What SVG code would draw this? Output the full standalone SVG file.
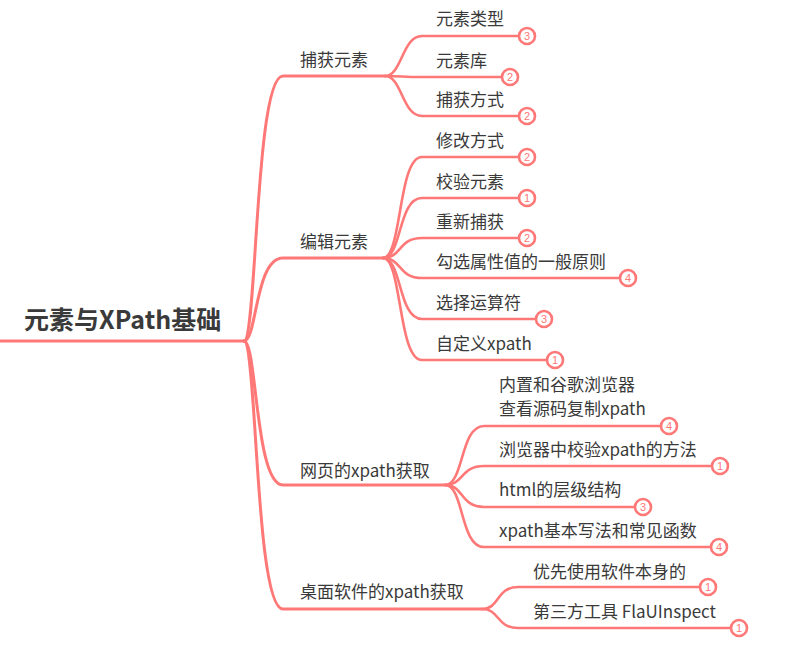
<svg xmlns="http://www.w3.org/2000/svg" width="786" height="648" viewBox="0 0 786 648">
<style>
.l1{fill:none;stroke:#ff7878;stroke-width:3;stroke-linecap:round}
.l2{fill:none;stroke:#ff7878;stroke-width:2.6;stroke-linecap:round}
.t{font-family:"Microsoft YaHei","Noto Sans CJK SC","Noto Sans",sans-serif;font-size:17px;fill:#3a3a3a}
.root{font-family:"Microsoft YaHei","Noto Sans CJK SC","Noto Sans",sans-serif;font-size:25px;font-weight:bold;fill:#3a3a3a}
.b circle{fill:#fff;stroke:#ff7878;stroke-width:2.6}
.b text{font-family:"Liberation Sans","Noto Sans",sans-serif;font-size:11px;fill:#ff7878;text-anchor:middle}
</style>
<rect width="786" height="648" fill="#fff"/>
<g id="connectors">
<path class="l1" d="M0,341 H244"/>
<path class="l1" d="M244,341 C257,341 255,76 283,76 H385"/>
<path class="l1" d="M244,341 C257,341 255,258 283,258 H383"/>
<path class="l1" d="M244,341 C257,341 255,485 283,485 H445"/>
<path class="l1" d="M244,341 C257,341 255,609 283,609 H482"/>
<path class="l2" d="M385,76 C402,76 402,36 422,36 H519"/>
<path class="l2" d="M385,76 C402,76 402,77 422,77 H502"/>
<path class="l2" d="M385,76 C402,76 402,116 422,116 H519"/>
<path class="l2" d="M383,258 C402,258 398,157 422,157 H519"/>
<path class="l2" d="M383,258 C402,258 398,198 422,198 H519"/>
<path class="l2" d="M383,258 C402,258 398,238 422,238 H519"/>
<path class="l2" d="M383,258 C402,258 398,278 422,278 H620"/>
<path class="l2" d="M383,258 C402,258 398,319 422,319 H536"/>
<path class="l2" d="M383,258 C402,258 398,360 422,360 H547"/>
<path class="l2" d="M445,485 C464,485 460,426 484,426 H661"/>
<path class="l2" d="M445,485 C464,485 460,466 484,466 H712"/>
<path class="l2" d="M445,485 C464,485 460,507 484,507 H635"/>
<path class="l2" d="M445,485 C464,485 460,547 484,547 H711"/>
<path class="l2" d="M482,609 C500,609 496,587 518,587 H700"/>
<path class="l2" d="M482,609 C500,609 496,628 518,628 H731"/>
</g>
<g id="root"><text class="root" x="24" y="329">元素与XPath基础</text></g>
<g id="n1"><text class="t" x="300" y="66">捕获元素</text></g>
<g id="n2"><text class="t" x="300" y="248">编辑元素</text></g>
<g id="n3"><text class="t" x="300" y="477">网页的xpath获取</text></g>
<g id="n4"><text class="t" x="300" y="598">桌面软件的xpath获取</text></g>
<g id="n1a"><text class="t" x="436" y="25">元素类型</text><g class="b"><circle cx="527" cy="36" r="8"/><text x="527" y="40">3</text></g></g>
<g id="n1b"><text class="t" x="436" y="67">元素库</text><g class="b"><circle cx="510" cy="77" r="8"/><text x="510" y="81">2</text></g></g>
<g id="n1c"><text class="t" x="436" y="106">捕获方式</text><g class="b"><circle cx="527" cy="116" r="8"/><text x="527" y="120">2</text></g></g>
<g id="n2a"><text class="t" x="436" y="147">修改方式</text><g class="b"><circle cx="527" cy="157" r="8"/><text x="527" y="161">2</text></g></g>
<g id="n2b"><text class="t" x="436" y="188">校验元素</text><g class="b"><circle cx="527" cy="198" r="8"/><text x="527" y="202">1</text></g></g>
<g id="n2c"><text class="t" x="436" y="228">重新捕获</text><g class="b"><circle cx="527" cy="238" r="8"/><text x="527" y="242">2</text></g></g>
<g id="n2d"><text class="t" x="436" y="268">勾选属性值的一般原则</text><g class="b"><circle cx="628" cy="278" r="8"/><text x="628" y="282">4</text></g></g>
<g id="n2e"><text class="t" x="436" y="309">选择运算符</text><g class="b"><circle cx="544" cy="319" r="8"/><text x="544" y="323">3</text></g></g>
<g id="n2f"><text class="t" x="436" y="350">自定义xpath</text><g class="b"><circle cx="555" cy="360" r="8"/><text x="555" y="364">1</text></g></g>
<g id="n3a"><text class="t" x="499" y="391">内置和谷歌浏览器</text><text class="t" x="499" y="415">查看源码复制xpath</text><g class="b"><circle cx="669" cy="426" r="8"/><text x="669" y="430">4</text></g></g>
<g id="n3b"><text class="t" x="499" y="456">浏览器中校验xpath的方法</text><g class="b"><circle cx="720" cy="466" r="8"/><text x="720" y="470">1</text></g></g>
<g id="n3c"><text class="t" x="499" y="496">html的层级结构</text><g class="b"><circle cx="643" cy="507" r="8"/><text x="643" y="511">3</text></g></g>
<g id="n3d"><text class="t" x="499" y="537">xpath基本写法和常见函数</text><g class="b"><circle cx="719" cy="547" r="8"/><text x="719" y="551">4</text></g></g>
<g id="n4a"><text class="t" x="533" y="578">优先使用软件本身的</text><g class="b"><circle cx="708" cy="587" r="8"/><text x="708" y="591">1</text></g></g>
<g id="n4b"><text class="t" x="533" y="618">第三方工具 FlaUInspect</text><g class="b"><circle cx="739" cy="628" r="8"/><text x="739" y="632">1</text></g></g>
</svg>
